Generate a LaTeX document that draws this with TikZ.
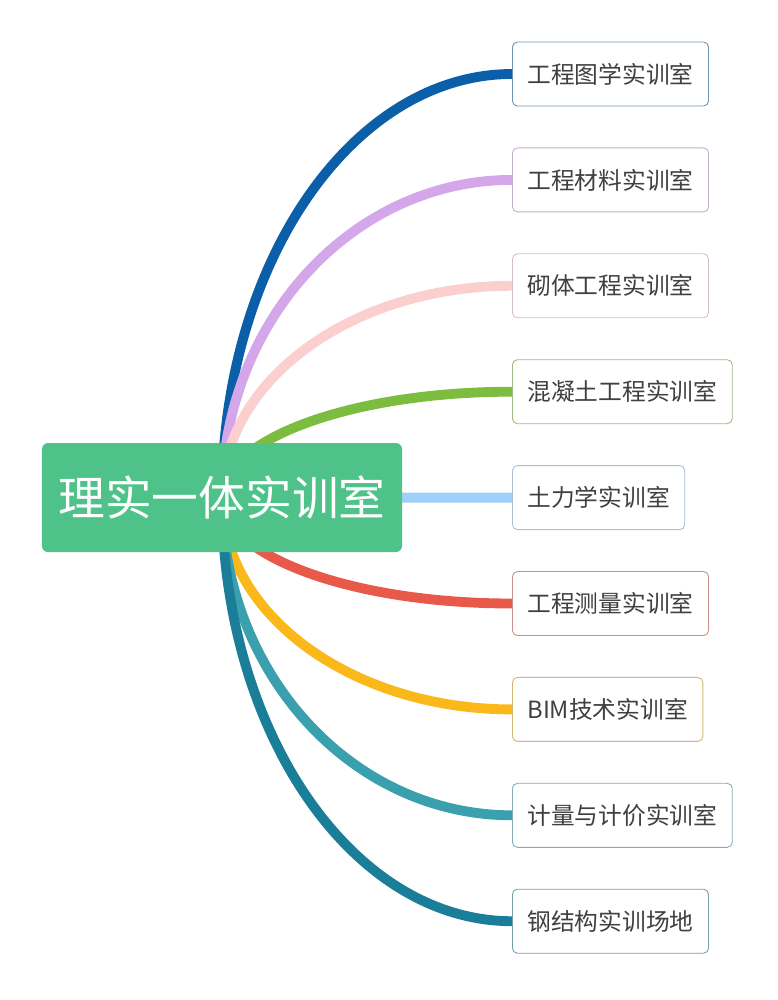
\documentclass[tikz,border=0pt]{standalone}
\usepackage{fontspec}
\newfontfamily\cjk{Noto Sans CJK SC}
\usetikzlibrary{calc,backgrounds}

\definecolor{rootGreen}{HTML}{4FC28A}
\definecolor{lnBlue}{HTML}{0A5FA8}
\definecolor{lnLilac}{HTML}{D4A6EA}
\definecolor{lnPink}{HTML}{FCCFCF}
\definecolor{lnGreen}{HTML}{7CBD3F}
\definecolor{lnSky}{HTML}{9FCFFA}
\definecolor{lnRed}{HTML}{E8594A}
\definecolor{lnAmber}{HTML}{FBB81B}
\definecolor{lnTeal}{HTML}{3AA0AE}
\definecolor{lnPetrol}{HTML}{1A7E99}

\begin{document}
\begin{tikzpicture}
[x=0.2mm,y=-0.2mm,%
  rootBox/.style={fill=rootGreen,rounded corners=1.2mm,text=white,
    minimum width=72mm,minimum height=21.8mm,inner sep=0pt,
    font=\cjk\fontsize{26.6}{30}\selectfont},%
  leaf/.style={fill=white,rounded corners=1mm,line width=0.5pt,anchor=west,
    inner xsep=3mm,inner ysep=0pt,minimum height=12.8mm,text=black!75,
    font=\cjk\fontsize{13.5}{16}\selectfont},%
  branch/.style={line width=5.6pt}]
\useasboundingbox (0,0) rectangle (777,1000);

\node[rootBox] (root) at (222,497.5) {理实一体实训室};

%% the rooms on the right
\foreach \i/\col/\txt in {0/lnBlue/工程图学实训室, 1/lnLilac/工程材料实训室,
  2/lnPink/砌体工程实训室, 3/lnGreen/混凝土工程实训室, 4/lnSky/土力学实训室,
  5/lnRed/工程测量实训室, 6/lnAmber/BIM技术实训室, 7/lnTeal/计量与计价实训室,
  8/lnPetrol/钢结构实训场地}
{
  \node[leaf,draw=\col!55!gray!75] (room\i) at (512,{74+105.9*\i}) {\txt};
  \begin{scope}[on background layer]
    \draw[branch,color=\col] (root.center)
      .. controls ($(root.center)!0.552!(root.center |- room\i.west)$)
      and ($(room\i.west)!0.552!(root.center |- room\i.west)$) .. (room\i.west);
  \end{scope}
}
\end{tikzpicture}
\end{document}
